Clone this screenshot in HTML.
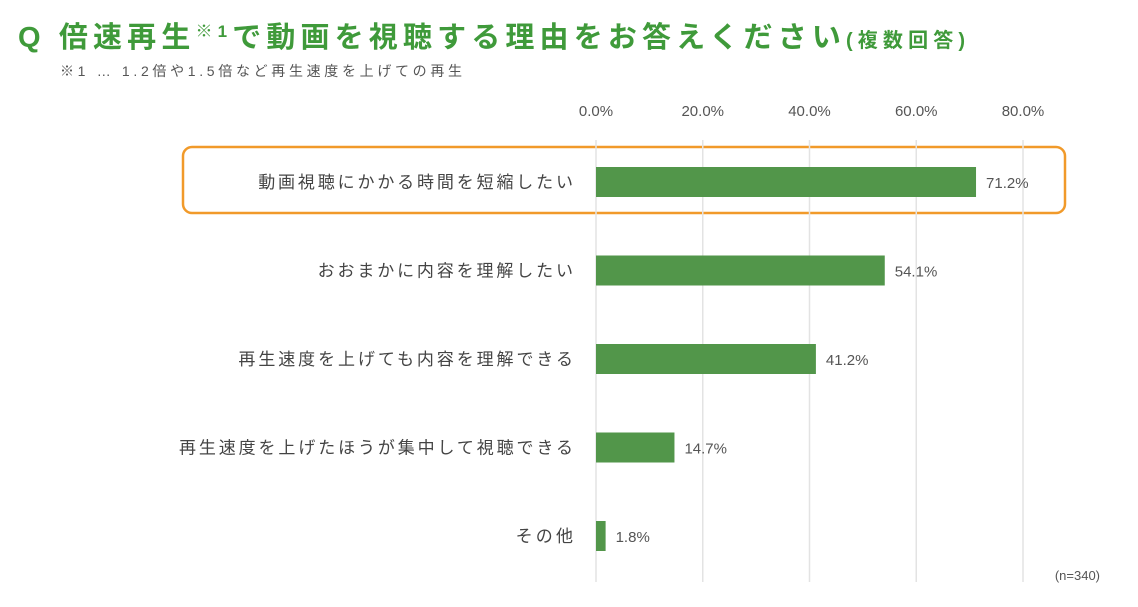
<!DOCTYPE html>
<html><head><meta charset="utf-8"><style>
body{margin:0;background:#fff;width:1138px;height:602px;overflow:hidden;font-family:"Liberation Sans","Noto Sans CJK JP",sans-serif;}
</style></head><body>
<svg width="1138" height="602" xmlns="http://www.w3.org/2000/svg" font-family="Liberation Sans, Noto Sans CJK JP, sans-serif">
<text x="18" y="47" font-size="29" font-weight="bold" fill="#3f9a3a" textLength="947" lengthAdjust="spacing">Q 倍速再生<tspan font-size="17" dy="-10">※1</tspan><tspan dy="10">で動画を視聴する理由をお答えください</tspan><tspan font-size="20">(複数回答)</tspan></text>
<text x="60" y="76" font-size="14" fill="#555" textLength="402" lengthAdjust="spacing">※1 … 1.2倍や1.5倍など再生速度を上げての再生</text>
<rect x="183" y="147" width="882" height="66" rx="9" fill="none" stroke="#f19a2a" stroke-width="2.5"/>
<g id="grid"></g><g id="bars"></g>
<text x="1100" y="580" font-size="13" fill="#555" text-anchor="end">(n=340)</text>
</svg>
<script>
const categories=["動画視聴にかかる時間を短縮したい","おおまかに内容を理解したい","再生速度を上げても内容を理解できる","再生速度を上げたほうが集中して視聴できる","その他"];
const values=[71.2,54.1,41.2,14.7,1.8];
const ticks=[0,20,40,60,80];
const NS="http://www.w3.org/2000/svg";
const x0=596,pxPer=(1023-596)/80;
const xs=v=>x0+v*pxPer;
const ys=i=>182+i*88.5;
const grid=document.getElementById('grid'),bars=document.getElementById('bars');
function mk(t,a,p){const e=document.createElementNS(NS,t);for(const k in a)e.setAttribute(k,a[k]);p.appendChild(e);return e;}
ticks.forEach(t=>{
 const l=mk('line',{x1:xs(t),x2:xs(t),y1:140,y2:582,stroke:'#e3e3e3','stroke-width':1.5},grid);
 
 
 const tx=mk('text',{x:xs(t),y:116,'font-size':15,fill:'#555','text-anchor':'middle'},grid);
 tx.textContent=t.toFixed(1)+'%';
 
 
});
values.forEach((v,i)=>{
 const y=ys(i);
 const r=mk('rect',{x:x0,y:y-15,width:xs(v)-x0,height:30,fill:'#52964a'},bars);
 
 
 const lb=mk('text',{x:xs(v)+10,y:y+6,'font-size':15,fill:'#555'},bars);
 lb.textContent=v.toFixed(1)+'%';
 
 
 const n=categories[i].length;
 const c=mk('text',{x:575-n*19.8,y:y+6,'font-size':17,fill:'#444',textLength:n*19.8-2,lengthAdjust:'spacing'},bars);
 c.textContent=categories[i];
 
 
});
</script>
</body></html>
